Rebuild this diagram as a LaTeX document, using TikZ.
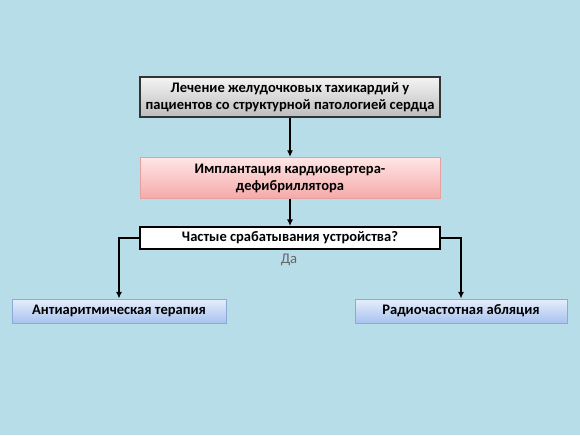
\documentclass[tikz,border=0pt]{standalone}
\usepackage{fontspec}
\setmainfont{Carlito}
\usetikzlibrary{arrows.meta}

\definecolor{bgblue}{HTML}{B7DDE8}
\definecolor{grayTop}{HTML}{F4F4F4}
\definecolor{grayBot}{HTML}{BDBDBD}
\definecolor{pinkTop}{HTML}{FFE6E6}
\definecolor{pinkBot}{HTML}{F5A9A9}
\definecolor{pinkLine}{HTML}{E5A0A0}
\definecolor{blueTop}{HTML}{E6EEFB}
\definecolor{blueBot}{HTML}{A8C2EE}
\definecolor{blueLine}{HTML}{8EA9D8}

\begin{document}
\begin{tikzpicture}[x=0.75pt,y=-0.75pt,
  box/.style={rectangle, align=center, inner sep=2pt,
    font=\fontsize{10.9}{12.8}\selectfont\bfseries},
  arrow/.style={line width=1.1pt, -{Latex[length=5pt,width=4.5pt]}}]

% Background
\fill[bgblue] (0,0) rectangle (580,435);

% Boxes
\node[box, draw=black!80, line width=1pt, top color=grayTop, bottom color=grayBot,
  minimum width=225pt, minimum height=30pt] (treat) at (290,97)
  {Лечение желудочковых тахикардий у\\пациентов со структурной патологией сердца};
\node[box, draw=pinkLine, line width=0.6pt, top color=pinkTop, bottom color=pinkBot,
  minimum width=225pt, minimum height=31pt] (icd) at (290,178)
  {Имплантация кардиовертера-\\дефибриллятора};
\node[box, draw=black, line width=1.3pt, fill=white,
  minimum width=225pt, minimum height=16.5pt] (shocks) at (290,238)
  {Частые срабатывания устройства?};
\node[box, draw=blueLine, line width=0.6pt, top color=blueTop, bottom color=blueBot,
  minimum width=160.5pt, minimum height=18pt] (aad) at (119,311)
  {Антиаритмическая терапия};
\node[box, draw=blueLine, line width=0.6pt, top color=blueTop, bottom color=blueBot,
  minimum width=159pt, minimum height=18pt] (rfa) at (461,311)
  {Радиочастотная абляция};

% Label
\node[text=black!60, font=\fontsize{11}{12}\selectfont] (yes) at (289,260) {Да};

% Connectors
\draw[arrow] (treat) -- (icd);
\draw[arrow] (icd) -- (shocks);
\draw[arrow] (shocks.west) -| (aad.north);
\draw[arrow] (shocks.east) -| (rfa.north);

\end{tikzpicture}
\end{document}
